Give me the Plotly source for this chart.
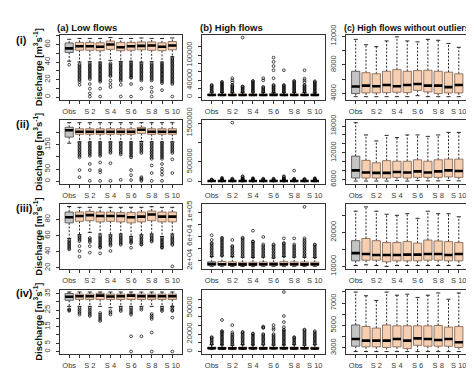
import plotly.graph_objects as go

# ---------------- data ----------------
x_labels = ["Obs", "S 1", "S 2", "S 3", "S 4", "S 5", "S 6", "S 7", "S 8", "S 9", "S 10"]
x_major = [1, 3, 5, 7, 9, 11]
x_major_text = ["Obs", "S 2", "S 4", "S 6", "S 8", "S 10"]
x_minor = [2, 4, 6, 8, 10]

# Row (i)
low1_q1 = [51, 53.5, 53.5, 53, 54.5, 53, 53.5, 54, 53.5, 53, 54]
low1_med = [55.7, 58, 58, 57.5, 60, 57, 58, 58.5, 59, 57.5, 59]
low1_q3 = [61.8, 62.5, 62.5, 62, 64, 62.5, 62.5, 63, 63, 62, 63.5]
low1_lo = [41, 40, 40.5, 40, 42, 40.5, 41, 40, 40.5, 40, 46]
low1_hi = [66, 67, 67, 67, 68, 67, 67, 67.5, 67, 67, 67.5]
low1_out = [
    [37],
    [37.5, 36, 34.5, 33, 31.5, 30, 28.5, 27, 25.5, 24, 22.5, 21, 19.5, 17.5, 14],
    [38.5, 37, 35.5, 34, 32.5, 31, 29.5, 28, 26.5, 25, 23.5, 22, 20.5, 15, 9.7, 4.3, 0.7],
    [38.5, 37, 35.5, 34, 32.5, 31, 29.5, 28, 26.5, 25, 23.5, 22, 20.5, 19, 17.5, 9.7, 0.7],
    [38.5, 37, 35.5, 34, 32.5, 31, 29.5, 28, 26.5, 25, 24, 19, 15, 11.5],
    [39.5, 38, 36.5, 35, 33.5, 32, 30.5, 29, 27.5, 26, 24.5, 23, 21.5, 20, 18.5, 14, 0.7],
    [39.5, 38, 36.5, 35, 33.5, 32, 30.5, 29, 27.5, 26, 24.5, 23, 22, 15, 0.7],
    [38.5, 37, 35.5, 34, 32.5, 31, 29.5, 28, 26.5, 25, 23.5, 22, 20.5, 19, 9.7],
    [38.5, 37, 35.5, 34, 32.5, 31, 29.5, 28, 26.5, 25, 23.5, 22, 20.5, 19, 11, 6, 0.7],
    [38.5, 37, 35.5, 34, 32.5, 31, 29.5, 28, 26.5, 25, 23.5, 22, 20.5, 19, 17.5, 16, 8],
    [45, 43.5, 42, 40.5, 39, 37.5, 36, 34.5, 33, 31.5, 30, 28.5, 27, 25.5, 24, 22.5, 21, 19.5, 18, 16.5, 15, 0.7],
]
high1_q1 = [4000, 4100, 4090, 4130, 4180, 4130, 4440, 4220, 4000, 4090, 4090]
high1_med = [4980, 5100, 5020, 5200, 5020, 5200, 5330, 5110, 5110, 4890, 5200]
high1_q3 = [7100, 6900, 6750, 7100, 7330, 7100, 7200, 7240, 7100, 6980, 6750]
high1_lo = [3560, 3560, 3560, 3560, 3560, 3560, 3700, 3560, 3560, 3560, 3560]
high1_hi = [11550, 10800, 10530, 11330, 11900, 11330, 11200, 11550, 11420, 10980, 10440]
high1_out = [
    [12500, 15000, 17500, 20000, 22500, 25000, 27500, 29000],
    [12000, 14500, 17000, 19500, 22000, 24500, 27000, 29500, 32000, 34500, 36500],
    [12000, 14500, 17000, 19500, 22000, 24500, 27000, 29000, 35000, 40000, 45000],
    [12000, 14500, 17000, 19500, 22000, 24500, 25500, 142000],
    [12500, 15000, 17500, 20000, 22500, 25000, 27500, 30000, 32500, 35000, 37500, 38500],
    [12000, 14500, 17000, 19500, 22000, 24500, 40000, 45000],
    [12000, 14500, 17000, 19500, 22000, 24500, 27000, 29000, 45000, 64000, 74000, 84000, 94000],
    [12000, 14500, 17000, 19500, 22000, 24500, 27000, 29000, 64000],
    [12000, 14500, 17000, 19500, 22000, 24500, 27000, 29500, 32000, 34500, 37000, 38500],
    [12000, 14500, 17000, 19500, 22000, 24500, 27000, 29000, 35500, 40000, 44000, 64000],
    [11000, 13500, 16000, 18500, 21000, 23500, 26000, 28500, 31000, 33500, 36000, 37800],
]

# Row (ii)
low2_q1 = [181, 192.5, 192.5, 192.5, 192.5, 192.5, 192.5, 196, 192.5, 192.5, 192.5]
low2_med = [209, 202.5, 203, 203, 202.5, 202.5, 203, 211, 203, 202.5, 203]
low2_q3 = [221, 215, 215, 215, 215, 215, 215, 221, 215, 215, 215]
low2_lo = [156, 161, 161, 161, 161, 161, 161, 163, 161, 161, 161]
low2_hi = [240, 240, 240, 240, 240, 240, 240, 240, 240, 240, 240]
low2_out = [
    [],
    [158, 152, 146, 140, 134, 128, 122, 116, 110, 104, 98, 46, 17],
    [158, 152, 146, 140, 134, 128, 122, 116, 110, 104, 71, 46, 2],
    [158, 152, 146, 140, 134, 128, 122, 116, 110, 104, 77, 46, 37, 2],
    [158, 152, 146, 140, 134, 128, 122, 116, 74, 2],
    [158, 152, 146, 140, 134, 128, 122, 116, 110, 6],
    [158, 152, 146, 140, 134, 128, 122, 116, 110, 104, 98, 46, 25, 5],
    [158, 152, 146, 140, 134, 128, 122, 116, 17, 12, 7, 2],
    [158, 152, 146, 140, 134, 128, 122, 116, 110, 104, 98, 92, 65, 34, 2],
    [158, 152, 146, 140, 134, 128, 122, 116, 110, 104, 98, 92, 71, 52, 40, 27, 2],
    [158, 152, 146, 140, 134, 128, 122, 116, 90, 34],
]
high2_q1 = [6340, 6340, 6340, 6340, 6480, 6340, 6480, 6480, 6480, 6600, 6480]
high2_med = [8050, 7570, 7500, 7500, 7700, 7570, 7840, 7570, 7840, 8050, 7900]
high2_q3 = [11250, 10300, 9750, 10230, 10100, 10100, 10430, 10100, 10430, 10570, 10570]
high2_lo = [5660, 5660, 5660, 5660, 5800, 5660, 5800, 5700, 5700, 5800, 5700]
high2_hi = [18750, 16000, 14660, 15900, 15400, 16000, 16000, 15680, 16000, 16570, 16570]
high2_out = [
    [20000, 30000, 40000, 50000],
    [18000, 28000, 40000, 55000, 70000, 90000],
    [18000, 28000, 40000, 55000, 70000, 1510000],
    [17500, 28000, 40000, 55000, 70000, 80000, 115000, 130000],
    [17000, 28000, 40000, 55000, 70000, 80000],
    [17500, 28000, 40000, 55000, 70000],
    [17500, 28000, 40000, 55000, 70000],
    [17000, 28000, 40000, 55000, 70000, 80000, 115000, 130000],
    [17500, 28000, 40000, 55000, 70000, 277000],
    [18000, 28000, 40000, 55000, 60000],
    [18000, 28000, 40000, 55000, 70000, 80000],
]

# Row (iii)
low3_q1 = [75.8, 77.7, 78.5, 77, 77.7, 77, 75.8, 77, 78.5, 77, 77]
low3_med = [82.7, 84.2, 85.4, 84.2, 84.2, 84.2, 82.7, 83.5, 86.2, 83.5, 83.5]
low3_q3 = [89.2, 89.2, 90, 89.2, 89.2, 88.5, 88.5, 89.2, 90.4, 89.2, 89.2]
low3_lo = [56.5, 61, 64, 62, 61, 62, 59, 61, 62, 59, 62]
low3_hi = [96, 95, 95, 95, 95, 95, 95, 95, 95.8, 95, 95]
low3_out = [
    [54.5, 52.8, 51.1, 49.4, 47.7, 46, 44.3, 43],
    [60, 58.3, 56.6, 54.9, 53.2, 47, 41, 34],
    [57, 55.3, 53.6, 52, 47, 39],
    [59.5, 57.8, 56.1, 54.4, 52.7, 51, 49.3, 47.6, 45.9, 45, 38],
    [59.5, 57.8, 56.1, 54.4, 52.7, 51, 49.3, 47.6, 41],
    [60.4, 58.7, 57, 55.3, 53.6, 51.9, 50.2, 48.8],
    [57.3, 55.6, 53.9, 52.2, 50.8, 45],
    [59.5, 57.8, 56.1, 54.4, 52.7, 51, 49.3, 48.8],
    [60.5, 58.8, 57.1, 55.4, 53.7, 52.7],
    [57.3, 55.6, 53.9, 52.2, 50.5, 48.8, 47.1, 45.4, 45],
    [60, 58.3, 56.6, 54.9, 53.2, 51.5, 49.8, 48.5, 22],
]
high3_q1 = [11640, 11820, 11820, 11365, 11640, 11640, 11640, 11820, 11820, 11640, 11640]
high3_med = [13910, 13640, 13370, 13370, 13370, 13460, 13460, 13640, 13640, 13370, 13640]
high3_q3 = [17550, 18190, 17550, 17000, 17000, 17280, 16830, 17740, 17460, 17280, 17000]
high3_lo = [10270, 10450, 10270, 10000, 10270, 10270, 10270, 10270, 10270, 10270, 10270]
high3_hi = [26200, 27470, 26200, 25300, 25000, 25470, 24100, 26200, 25470, 25470, 24560]
high3_out = [
    [27500, 30000, 32500, 35000, 37500, 40000, 42500, 45000, 47500, 49000, 54000, 61800],
    [28500, 31000, 33500, 36000, 38500, 41000, 43500, 46000, 48500, 51000, 53500, 56000, 57700],
    [27500, 30000, 32500, 35000, 37500, 40000, 42500, 44000, 54000],
    [26500, 29000, 31500, 34000, 36500, 39000, 41500, 44000, 46500, 49000, 51500, 54000, 56500, 57700],
    [26000, 28500, 31000, 33500, 36000, 38500, 41000, 43500, 46000, 48500, 51000, 51600, 69400],
    [26500, 29000, 31500, 34000, 36500, 39000, 41500, 44000, 46500, 59000],
    [25000, 27500, 30000, 32500, 35000, 37500, 40000, 42500, 45000, 46500],
    [27500, 30000, 32500, 35000, 37500, 40000, 42500, 45000, 47500, 49000, 56700],
    [26500, 29000, 31500, 34000, 36500, 39000, 41500, 44000, 46500, 56700],
    [26500, 29000, 31500, 34000, 36500, 39000, 41500, 44000, 46500, 49000, 51500, 54000, 56700, 109000],
    [25500, 28000, 30500, 33000, 35500, 38000, 40500, 43000, 45500, 46500],
]

# Row (iv)
low4_q1 = [31.0, 31.5, 31.5, 31.5, 31.5, 31.5, 31.5, 31.5, 31.5, 31.5, 31.5]
low4_med = [33.1, 33.4, 33.4, 33.8, 33.3, 33.4, 33.8, 33.4, 33.4, 33.4, 33.4]
low4_q3 = [35.1, 34.75, 34.75, 35.2, 34.75, 34.75, 34.75, 34.75, 34.75, 34.75, 34.75]
low4_lo = [27.3, 27.3, 27.3, 27.3, 26.5, 27.3, 27.3, 27.3, 27.3, 27.3, 27.3]
low4_hi = [36, 36, 36, 36, 36, 36, 36, 36, 36, 36, 36]
low4_out = [
    [25.6, 25.1, 24.6],
    [26.3, 25.3, 24.3, 23.3, 22.3],
    [26.3, 25.3, 24.3, 23.3, 22.3, 21.5],
    [23.3, 22.3, 21.3, 20.3, 19.3, 18.5],
    [24.5, 23.5, 22.5],
    [26.3, 25.3, 24.5],
    [26.3, 25.3, 24.3, 23.3, 22.3, 9.2, 0],
    [26.3, 25.3, 9.2],
    [22.7, 21.7, 20.7, 19.7, 11.5, 0],
    [26.3, 25.3, 24.5],
    [27, 26, 25, 24.5, 20.5, 0],
]
high4_q1 = [3140, 3080, 3080, 3030, 3080, 2940, 3220, 3140, 3140, 3140, 3030]
high4_med = [3780, 3640, 3640, 3640, 3780, 3640, 3840, 3780, 3700, 3780, 3500]
high4_q3 = [5040, 4900, 4760, 5040, 4960, 4960, 4960, 4960, 4990, 4850, 4900]
high4_lo = [2660, 2660, 2660, 2660, 2660, 2660, 2660, 2660, 2660, 2660, 2660]
high4_hi = [7980, 7650, 7230, 7980, 7700, 7790, 7500, 7700, 7900, 7340, 7900]
high4_out = [
    [8500, 10000, 11500, 13000, 14500, 16000, 16500],
    [8000, 9500, 11000, 12500, 14000, 15500, 17000, 18500, 20000, 21500, 23000, 23400, 36200],
    [8000, 9500, 11000, 12500, 14000, 15500, 17000, 18500, 20000, 22000, 30300],
    [8500, 10000, 11500, 13000, 14500, 16000, 17500, 19000, 20500, 22000, 22400],
    [8000, 9500, 11000, 12500, 14000, 15500, 17000, 18500, 20000, 20700],
    [8500, 10000, 11500, 13000, 14500, 16000, 17500, 19000, 20000, 27000, 27800, 28600],
    [8000, 9500, 11000, 12500, 14000, 15500, 17000, 18500, 20000, 25000, 27000, 30300],
    [8000, 9500, 11000, 12500, 14000, 15500, 17000, 18500, 20000, 21500, 23000, 24500, 25200, 28000, 33800, 40700, 68300],
    [8500, 10000, 11500, 13000, 14500, 16000, 16500],
    [8000, 9500, 11000, 12500, 14000, 15500, 17000, 18500, 20000, 21500, 23000, 24500, 25200],
    [8500, 10000, 11500, 13000, 14500, 16000, 17500, 19000, 20500, 22000, 23400],
]

# y-axis ticks per panel: (labelled values, labels, unlabelled tick values)
ticks_a1 = ([0, 20, 40, 60], ["0", "20", "40", "60"], [10, 30, 50, 70])
ticks_b1 = ([0, 40000, 100000], ["0", "40000", "100000"], [20000, 60000, 80000, 120000])
ticks_c1 = ([4000, 8000, 12000], ["4000", "8000", "12000"], [6000, 10000])
ticks_a2 = ([0, 50, 150], ["0", "50", "150"], [100, 200])
ticks_b2 = ([0, 500000, 1500000], ["0", "500000", "1500000"], [1000000])
ticks_c2 = ([6000, 12000, 18000], ["6000", "12000", "18000"], [8000, 10000, 14000, 16000])
ticks_a3 = ([20, 40, 60, 80], ["20", "40", "60", "80"], [])
ticks_b3 = ([20000, 60000, 100000], ["2e+04", "6e+04", "1e+05"], [40000, 80000])
ticks_c3 = ([10000, 20000], ["10000", "20000"], [15000, 25000])
ticks_a4 = ([0, 5, 15, 25, 35], ["0", "5", "15", "25", "35"], [10, 20, 30])
ticks_b4 = ([0, 20000, 50000], ["0", "20000", "50000"], [10000, 30000, 40000, 60000])
ticks_c4 = ([3000, 5000, 7000], ["3000", "5000", "7000"], [4000, 6000, 8000])

ranges = {
    "a1": [-2.7, 70.7], "b1": [-5700, 147500], "c1": [3170, 12130],
    "a2": [-9.6, 249.6], "b2": [-60000, 1570000], "c2": [5070, 19280],
    "a3": [19, 98.5], "b3": [6000, 113000], "c3": [9300, 28170],
    "a4": [-1.45, 37.45], "b4": [-2700, 71000], "c4": [2450, 8200],
}

panels = [
    ("a1", (low1_q1, low1_med, low1_q3, low1_lo, low1_hi, low1_out), ticks_a1),
    ("b1", (high1_q1, high1_med, high1_q3, high1_lo, high1_hi, high1_out), ticks_b1),
    ("c1", (high1_q1, high1_med, high1_q3, high1_lo, high1_hi, None), ticks_c1),
    ("a2", (low2_q1, low2_med, low2_q3, low2_lo, low2_hi, low2_out), ticks_a2),
    ("b2", (high2_q1, high2_med, high2_q3, high2_lo, high2_hi, high2_out), ticks_b2),
    ("c2", (high2_q1, high2_med, high2_q3, high2_lo, high2_hi, None), ticks_c2),
    ("a3", (low3_q1, low3_med, low3_q3, low3_lo, low3_hi, low3_out), ticks_a3),
    ("b3", (high3_q1, high3_med, high3_q3, high3_lo, high3_hi, high3_out), ticks_b3),
    ("c3", (high3_q1, high3_med, high3_q3, high3_lo, high3_hi, None), ticks_c3),
    ("a4", (low4_q1, low4_med, low4_q3, low4_lo, low4_hi, low4_out), ticks_a4),
    ("b4", (high4_q1, high4_med, high4_q3, high4_lo, high4_hi, high4_out), ticks_b4),
    ("c4", (high4_q1, high4_med, high4_q3, high4_lo, high4_hi, None), ticks_c4),
]

# ---------------- layout geometry (pixels) ----------------
W, H = 474, 369
col_px = [(51.5, 174.0), (194.0, 316.5), (338.0, 460.5)]
row_px = [(15, 83), (105, 172), (194, 262), (284, 352)]

OBS_FILL, OBS_LINE = "#c4c4c4", "#555555"
SIM_FILL, SIM_LINE = "#f6cfb0", "#8a6a58"
TXT = "#3a3a3a"
FONT = "Liberation Sans, Arial, sans-serif"
BW = 0.4  # half box width

fig = go.Figure()
layout_axes = {}

for idx, (key, stats, ticks) in enumerate(panels):
    q1, med, q3, lo, hi, out = stats
    r, c = divmod(idx, 3)
    n = idx + 1
    xa = "x" if n == 1 else f"x{n}"
    ya = "y" if n == 1 else f"y{n}"
    xs = list(range(1, len(q1) + 1))

    # whiskers (dashed) and caps
    wx, wy, cx, cy = [], [], [], []
    for x, a, b, l, h in zip(xs, q1, q3, lo, hi):
        wx += [x, x, None, x, x, None]
        wy += [b, h, None, a, l, None]
        cx += [x - BW / 2, x + BW / 2, None, x - BW / 2, x + BW / 2, None]
        cy += [h, h, None, l, l, None]
    fig.add_trace(go.Scatter(x=wx, y=wy, xaxis=xa, yaxis=ya, mode="lines",
                             line=dict(color="#111111", width=0.9, dash="2px,1.6px"),
                             hoverinfo="skip", showlegend=False))
    fig.add_trace(go.Scatter(x=cx, y=cy, xaxis=xa, yaxis=ya, mode="lines",
                             line=dict(color="#111111", width=0.9),
                             hoverinfo="skip", showlegend=False))
    # boxes
    for group, fillc, linec in (([0], OBS_FILL, OBS_LINE), (list(range(1, len(xs))), SIM_FILL, SIM_LINE)):
        bx, by = [], []
        for i in group:
            x = xs[i]
            bx += [x - BW, x + BW, x + BW, x - BW, x - BW, None]
            by += [q1[i], q1[i], q3[i], q3[i], q1[i], None]
        fig.add_trace(go.Scatter(x=bx, y=by, xaxis=xa, yaxis=ya, mode="lines",
                                 fill="toself", fillcolor=fillc,
                                 line=dict(color=linec, width=0.9),
                                 hoverinfo="skip", showlegend=False))
    # medians
    mx, my = [], []
    for x, m in zip(xs, med):
        mx += [x - BW, x + BW, None]
        my += [m, m, None]
    fig.add_trace(go.Scatter(x=mx, y=my, xaxis=xa, yaxis=ya, mode="lines",
                             line=dict(color="black", width=2.6),
                             hoverinfo="skip", showlegend=False))
    # outliers
    if out is not None:
        ox, oy = [], []
        for x, vals in zip(xs, out):
            ox += [x] * len(vals)
            oy += vals
        fig.add_trace(go.Scatter(x=ox, y=oy, xaxis=xa, yaxis=ya, mode="markers",
                                 marker=dict(symbol="circle-open", size=2.8, color="black",
                                             line=dict(width=0.7, color="black")),
                                 hoverinfo="skip", showlegend=False))

    x0, x1 = col_px[c]
    y0, y1 = row_px[r]
    axis_common = dict(showline=True, mirror=True, linecolor="#333333", linewidth=1,
                       ticks="outside", ticklen=3, tickwidth=0.8, tickcolor="#333333",
                       showgrid=False, zeroline=False, fixedrange=True,
                       tickfont=dict(family=FONT, size=7.5, color=TXT))
    layout_axes["xaxis" if n == 1 else f"xaxis{n}"] = dict(
        axis_common, domain=[x0 / W, x1 / W], range=[0.06, 11.94],
        tickmode="array", tickvals=x_major, ticktext=x_major_text, tickangle=0,
        minor=dict(tickmode="array", tickvals=x_minor, ticks="outside", ticklen=3,
                   tickwidth=0.8, tickcolor="#333333", showgrid=False),
        anchor=ya, ticklabelstandoff=1)
    layout_axes["yaxis" if n == 1 else f"yaxis{n}"] = dict(
        axis_common, domain=[1 - y1 / H, 1 - y0 / H], range=ranges[key],
        tickmode="array", tickvals=ticks[0], ticktext=ticks[1], tickangle=-90,
        minor=dict(tickmode="array", tickvals=ticks[2], ticks="outside", ticklen=3,
                   tickwidth=0.8, tickcolor="#333333", showgrid=False),
        anchor=xa, ticklabelstandoff=3)

annotations = []
titles = [("(a) Low flows", 47, 9.5), ("(b) High flows", 190, 9.5), ("(c) High flows without outliers", 334, 8.8)]
for t, xp, fs in titles:
    annotations.append(dict(text=f"<b>{t}</b>", x=xp / W, y=1 - 7 / H, xref="paper", yref="paper",
                            xanchor="left", yanchor="middle", showarrow=False,
                            font=dict(family=FONT, size=fs, color="#111111")))
row_labels = [("(i)", 20), ("(ii)", 109), ("(iii)", 198), ("(iv)", 288)]
for t, yp in row_labels:
    annotations.append(dict(text=f"<b>{t}</b>", x=6 / W, y=1 - yp / H, xref="paper", yref="paper",
                            xanchor="left", yanchor="middle", showarrow=False,
                            font=dict(family=FONT, size=11, color="#111111")))
for (y0, y1) in row_px:
    annotations.append(dict(text="<b>Discharge [m<sup>3</sup>s<sup>-1</sup>]</b>", x=30 / W,
                            y=1 - (y0 + y1) / 2 / H, xref="paper", yref="paper",
                            xanchor="center", yanchor="middle", textangle=-90, showarrow=False,
                            font=dict(family=FONT, size=9.5, color="#111111")))

fig.update_layout(width=W, height=H, margin=dict(l=0, r=0, t=0, b=0),
                  paper_bgcolor="white", plot_bgcolor="white",
                  annotations=annotations, **layout_axes)

fig.write_html("out.html")
